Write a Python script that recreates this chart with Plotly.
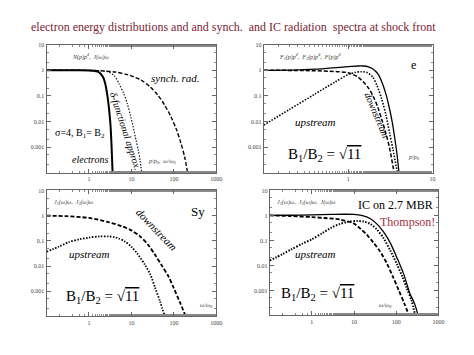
import plotly.graph_objects as go

W, H = 474, 355

# ---------------- data ----------------
# Panel 1: electrons, delta-functional approx, synchrotron
p1_elec_x = [0.1, 0.5, 1, 1.3, 1.6, 1.9, 2.2, 2.45, 2.7, 2.95, 3.2, 3.4, 3.6]
p1_elec_y = [1, 1, 0.99, 0.96, 0.88, 0.72, 0.5, 0.27, 0.11, 0.035, 0.008, 0.0012, 0.0001]
p1_delta_x = [0.1, 0.5, 1, 1.5, 2, 2.9, 4, 5.1, 6.5, 8, 9.5, 11, 13, 14.5, 16, 17.4]
p1_delta_y = [1, 1, 1, 0.99, 0.96, 0.86, 0.6, 0.30, 0.13, 0.05, 0.017, 0.0062, 0.0017, 0.00076, 0.0003, 0.0001]
p1_sync_x = [0.1, 0.5, 1, 2, 4.1, 8, 17, 28, 42, 60, 86, 115, 147, 180, 210]
p1_sync_y = [1, 1, 0.99, 0.95, 0.86, 0.68, 0.41, 0.22, 0.106, 0.045, 0.015, 0.0048, 0.0014, 0.0004, 0.0001]

# Panel 2: electron spectra, B1/B2 = sqrt(11)
p2_tot_x = [0.1, 0.2, 0.35, 0.53, 0.8, 1.1, 1.31, 1.5, 1.71, 1.95, 2.24, 2.5, 2.8, 3.1, 3.35, 3.6, 3.8, 4.0]
p2_tot_y = [1, 1.02, 1.08, 1.16, 1.3, 1.42, 1.47, 1.47, 1.4, 1.15, 0.74, 0.36, 0.12, 0.03, 0.0084, 0.0018, 0.0005, 0.0001]
p2_down_x = [0.1, 0.3, 0.6, 1.0, 1.3, 1.71, 2.0, 2.24, 2.5, 2.8, 3.1, 3.5]
p2_down_y = [1, 0.98, 0.92, 0.8, 0.55, 0.22, 0.09, 0.037, 0.012, 0.0034, 0.0009, 0.0001]
p2_up_x = [0.1, 0.2, 0.4, 0.7, 1.0, 1.2, 1.45, 1.7, 1.95, 2.2, 2.5, 2.8, 3.1, 3.4, 3.83]
p2_up_y = [0.0072, 0.029, 0.115, 0.35, 0.68, 0.82, 0.88, 0.8, 0.55, 0.25, 0.075, 0.018, 0.0035, 0.0008, 0.0001]

# Panel 3: synchrotron spectra
p3_down_x = [0.1, 0.3, 1, 2.9, 6, 10, 16, 25, 36, 51, 75, 100, 140, 190]
p3_down_y = [1, 0.95, 0.81, 0.55, 0.38, 0.26, 0.15, 0.068, 0.028, 0.011, 0.0038, 0.0013, 0.00035, 0.0001]
p3_up_x = [0.1, 0.2, 0.34, 0.6, 1, 1.8, 2.9, 4, 5, 7, 10, 14, 21, 28, 36, 47, 61]
p3_up_y = [0.037, 0.06, 0.09, 0.115, 0.135, 0.15, 0.15, 0.14, 0.124, 0.095, 0.058, 0.03, 0.011, 0.0045, 0.0014, 0.0004, 0.0001]

# Panel 4: IC spectra
p4_tot_x = [0.1, 0.3, 1, 3, 6, 10, 15, 24.5, 35, 50, 72, 104, 150, 210, 270, 330]
p4_tot_y = [1, 1.02, 1.06, 1.1, 1.12, 1.1, 1.0, 0.74, 0.45, 0.22, 0.08, 0.02, 0.0045, 0.00076, 0.0003, 0.0001]
p4_up_x = [0.1, 0.2, 0.32, 0.6, 1, 1.8, 2.84, 4.5, 7, 12, 17, 24.5, 35, 50, 72, 104, 140, 175, 230, 280]
p4_up_y = [0.0157, 0.028, 0.043, 0.075, 0.11, 0.2, 0.32, 0.45, 0.55, 0.6, 0.57, 0.45, 0.27, 0.123, 0.04, 0.011, 0.0035, 0.0013, 0.0004, 0.0001]
p4_down_x = [0.1, 0.3, 1, 2, 4.8, 10, 14, 20, 29, 41, 60, 84, 115, 155, 200]
p4_down_y = [1, 0.95, 0.86, 0.79, 0.68, 0.47, 0.3, 0.17, 0.08, 0.037, 0.012, 0.0034, 0.001, 0.0003, 0.0001]

y_tickvals = [10, 1, 0.1, 0.01, 0.001]
y_ticktext = ["10", "1", "0.1", "0.01", "0.001"]
x_tickvals_wide = [1, 10, 100, 1000]
x_ticktext_wide = ["1", "10", "100", "1000"]
x_tickvals_narrow = [1, 10]
x_ticktext_narrow = ["1", "10"]

# ---------------- figure ----------------
SERIF = "Liberation Serif, DejaVu Serif, serif"
fig = go.Figure()


def px_dom(a, b, total, flip=False):
    if flip:
        return [1 - b / total, 1 - a / total]
    return [a / total, b / total]


panels = {
    1: dict(x=px_dom(39, 211, W), y=px_dom(34, 163, H, True), xr=[-1, 3], xt=(x_tickvals_wide, x_ticktext_wide)),
    2: dict(x=px_dom(259, 430, W), y=px_dom(34, 163, H, True), xr=[-1, 1], xt=(x_tickvals_narrow, x_ticktext_narrow)),
    3: dict(x=px_dom(39, 211, W), y=px_dom(181, 308, H, True), xr=[-1, 3], xt=(x_tickvals_wide, x_ticktext_wide)),
    4: dict(x=px_dom(265, 436, W), y=px_dom(181, 307, H, True), xr=[-1, 3], xt=(x_tickvals_wide, x_ticktext_wide)),
}

axcommon = dict(type="log", showgrid=False, zeroline=False, showline=True, linecolor="#666",
                linewidth=1, mirror="allticks", ticks="inside", ticklen=4, tickcolor="#666",
                tickfont=dict(family=SERIF, size=6, color="#444"),
                minor=dict(ticks="inside", ticklen=2, tickcolor="#888", showgrid=False))

layout_axes = {}
for i, p in panels.items():
    s = "" if i == 1 else str(i)
    layout_axes["xaxis" + s] = dict(axcommon, domain=p["x"], range=p["xr"], anchor="y" + s,
                                    tickvals=p["xt"][0], ticktext=p["xt"][1])
    layout_axes["yaxis" + s] = dict(axcommon, domain=p["y"], range=[-4, 1], anchor="x" + s,
                                    tickvals=y_tickvals, ticktext=y_ticktext)

DASH = "4px,2px"
DOT = "1.5px,1.5px"


def add(i, xs, ys, dash="solid", width=1.3):
    s = "" if i == 1 else str(i)
    fig.add_trace(go.Scatter(x=xs, y=ys, mode="lines", xaxis="x" + s, yaxis="y" + s,
                             line=dict(color="black", width=width, dash=dash, shape="spline", smoothing=0.8),
                             showlegend=False, hoverinfo="skip"))


add(1, p1_elec_x, p1_elec_y, "solid", 2.0)
add(1, p1_delta_x, p1_delta_y, DOT, 1.1)
add(1, p1_sync_x, p1_sync_y, DASH, 1.4)

add(2, p2_tot_x, p2_tot_y, "solid", 1.3)
add(2, p2_up_x, p2_up_y, DOT, 1.6)
add(2, p2_down_x, p2_down_y, DASH, 1.5)

add(3, p3_down_x, p3_down_y, DASH, 1.8)
add(3, p3_up_x, p3_up_y, DOT, 1.8)

add(4, p4_tot_x, p4_tot_y, "solid", 1.3)
add(4, p4_up_x, p4_up_y, DOT, 2.0)
add(4, p4_down_x, p4_down_y, DASH, 1.8)

fig.update_layout(width=W, height=H, margin=dict(l=0, r=0, t=0, b=0),
                  paper_bgcolor="white", plot_bgcolor="white", showlegend=False,
                  font=dict(family=SERIF, color="black"), **layout_axes)


def note(text, xp, yp, size, anchor="left", italic=False, color="black", angle=0):
    if italic:
        text = "<i>" + text + "</i>"
    fig.add_annotation(text=text, x=xp / W, y=1 - yp / H, xref="paper", yref="paper",
                       xanchor=anchor, yanchor="middle", showarrow=False, textangle=angle,
                       font=dict(family=SERIF, size=size, color=color))


note("electron energy distributions and and synch.  and IC radiation  spectra at shock front",
     228, 16, 12, anchor="center", color="#7a2434")

B_TXT = "B<sub>1</sub>/B<sub>2</sub> = √<span style='text-decoration:overline'>11</span>"

# panel 1
note("N(p)p<sup>4</sup>,  J(ω)ω", 63, 46, 6, italic=True, color="#444")
note("synch. rad.", 143, 68, 11, italic=True)
note("δ-functional approx.", 119, 122, 10, anchor="center", italic=True, angle=72)
note("σ=4, B<sub>1</sub>= B<sub>2</sub>", 46, 124, 10)
note("electrons", 63, 150, 10, italic=True)
note("p/p<sub>0</sub>,  ω/ω<sub>0</sub>", 140, 152, 6, italic=True, color="#444")

# panel 2
note("F<sub>1</sub>(p)p<sup>4</sup>,  F<sub>2</sub>(p)p<sup>4</sup>,  F(p)p<sup>4</sup>", 272, 46, 6, italic=True, color="#444")
note("e", 411, 54, 12, anchor="center")
note("upstream", 289, 112, 11, italic=True)
note("downstream", 374, 105, 10, anchor="center", italic=True, angle=67)
note(B_TXT, 282, 145, 15)
note("p/p<sub>0</sub>", 403, 148, 6, italic=True, color="#444")

# panel 3
note("J<sub>1</sub>(ω)ω,  J<sub>2</sub>(ω)ω", 45, 193, 6, italic=True, color="#444")
note("Sy", 192, 202, 13, anchor="center")
note("downstream", 150, 220, 11, anchor="center", italic=True, angle=46)
note("upstream", 60, 245, 11, italic=True)
note(B_TXT, 57, 288, 15)
note("ω/ω<sub>0</sub>", 192, 297, 6, italic=True, color="#444")

# panel 4
note("J<sub>1</sub>(ω)ω,  J<sub>2</sub>(ω)ω,  J(ω)ω", 270, 193, 6, italic=True, color="#444")
note("IC on 2.7 MBR", 352, 196, 12)
note("Thompson!", 375, 213, 12, color="#a03040")
note("upstream", 289, 245, 11, italic=True)
note(B_TXT, 274, 285, 15)
note("ω/ω<sub>0</sub>", 374, 297, 6, italic=True, color="#444")

fig.write_html("out.html")
